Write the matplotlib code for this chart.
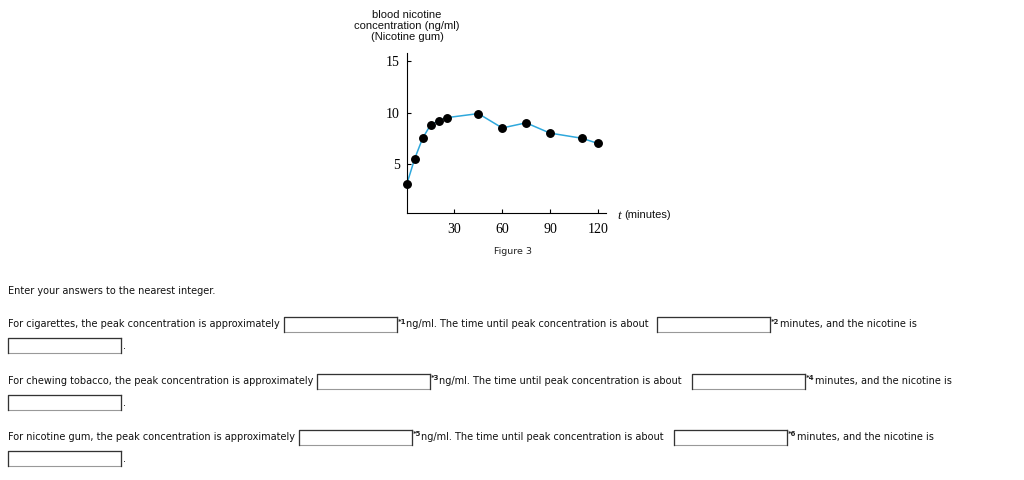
import matplotlib
matplotlib.use("Agg")
import matplotlib.pyplot as plt
from matplotlib.patches import Rectangle

# data (Nicotine gum)
t_min = [0, 5, 10, 15, 20, 25, 45, 60, 75, 90, 110, 120]
conc = [3.0, 5.5, 7.5, 8.8, 9.2, 9.5, 9.9, 8.5, 9.0, 8.0, 7.5, 7.0]
x_ticks = [30, 60, 90, 120]
y_ticks = [5, 10, 15]

W, H = 1024, 480
fig = plt.figure(figsize=(W / 100, H / 100), dpi=100)
fig.patch.set_facecolor("white")

# overlay in pixel units for the page text and input boxes
page = fig.add_axes([0, 0, 1, 1])
page.set_xlim(0, W)
page.set_ylim(H, 0)
page.axis("off")

# chart
left, right, top, bottom = 406.7, 605.7, 53.0, 213.2
ax = fig.add_axes([left / W, 1 - bottom / H, (right - left) / W, (bottom - top) / H])
ax.plot(t_min, conc, color="#2fa8dc", lw=1.1, zorder=2)
ax.plot(t_min, conc, "o", color="black", ms=5.4, zorder=3, clip_on=False)
ax.set_xlim(0, 125)
ax.set_ylim(0.2, 15.8)
ax.set_xticks(x_ticks)
ax.set_yticks(y_ticks)
for s in ["top", "right"]:
    ax.spines[s].set_visible(False)
for s in ["left", "bottom"]:
    ax.spines[s].set_linewidth(0.8)
ax.tick_params(direction="in", length=3, width=0.8, labelsize=10)
ax.tick_params(axis="x", pad=7)
ax.tick_params(axis="y", pad=5)
for lab in ax.get_xticklabels() + ax.get_yticklabels():
    lab.set_family("Liberation Serif")
ax.patch.set_alpha(0)

narrow = ["Liberation Sans Narrow", "Liberation Sans"]
for y, s in [(14.5, "blood nicotine"), (26.0, "concentration (ng/ml)"), (37.5, "(Nicotine gum)")]:
    page.text(407, y, s, ha="center", va="center", fontsize=8.0, family=narrow, color="#111")
page.text(617, 216, "t", ha="left", va="center", fontsize=9.5, family="Liberation Serif",
          style="italic", color="#111")
page.text(624, 215.5, "(minutes)", ha="left", va="center", fontsize=8.0, family=narrow, color="#111")
page.text(513, 251, "Figure 3", ha="center", va="center", fontsize=6.8, family="DejaVu Sans",
          color="#222")

# fit page font size to the reference width
probe = page.text(0, -50, "For cigarettes, the peak concentration is approximately", fontsize=10,
                  family="DejaVu Sans")
fig.canvas.draw()
wpx = probe.get_window_extent().width
probe.remove()
fs = 10 * 272 / wpx


def box(x0, x1, yc):
    page.add_patch(Rectangle((x0, yc - 7.5), x1 - x0, 15, fill=False, ec="#999", lw=0.8))
    page.plot([x0, x0, x1], [yc + 7.5, yc - 7.5, yc - 7.5], color="#333", lw=0.9)
    page.plot([x1, x1], [yc - 7.5, yc + 7.5], color="#333", lw=0.9)


def txt(x, y, s):
    page.text(x, y, s, ha="left", va="center", fontsize=fs, family="DejaVu Sans", color="#111")


def sup(x, y, s):
    page.text(x, y - 2.5, s, ha="left", va="center", fontsize=fs * 0.72, family="DejaVu Sans",
              weight="bold", color="#222")


txt(8, 291, "Enter your answers to the nearest integer.")

rows = [
    (324, "For cigarettes, the peak concentration is approximately", 284, 657, "1", "2"),
    (381, "For chewing tobacco, the peak concentration is approximately", 317, 692, "3", "4"),
    (437, "For nicotine gum, the peak concentration is approximately", 299, 674, "5", "6"),
]
for yc, lead, b1, b2, n1, n2 in rows:
    txt(8, yc, lead)
    box(b1, b1 + 113, yc)
    sup(b1 + 114, yc, "*" + n1)
    txt(b1 + 122, yc, "ng/ml. The time until peak concentration is about")
    box(b2, b2 + 113, yc)
    sup(b2 + 114, yc, "*" + n2)
    txt(b2 + 123, yc, "minutes, and the nicotine is")
    box(8, 121, yc + 21)
    txt(122.5, yc + 22, ".")

fig.savefig("out.png", dpi=100, facecolor="white")
